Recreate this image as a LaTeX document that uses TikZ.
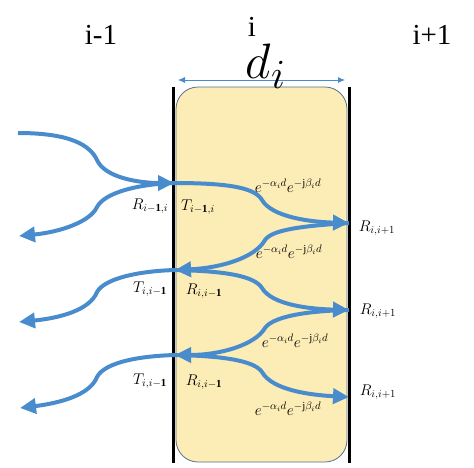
\documentclass[tikz,border=0pt]{standalone}
\usepackage{fontspec}
\setmainfont{Liberation Serif}
\usetikzlibrary{arrows.meta}
\definecolor{wblue}{RGB}{72,140,205}
\definecolor{slabfill}{RGB}{252,236,182}
\definecolor{slabedge}{RGB}{90,110,140}
\tikzset{
  wave/.style={draw=wblue, line width=4pt, -{Triangle[length=16pt,width=15pt]}},
  wall/.style={draw=black, line width=3.5pt},
  lbl/.style={font=\fontsize{14.4}{16}\selectfont, inner sep=0pt, scale=1.08},
  elbl/.style={font=\fontsize{14.4}{16}\selectfont, inner sep=0pt, scale=1.08},
  reg/.style={font=\fontsize{29}{31}\selectfont, inner sep=0pt}
}
\begin{document}
\begin{tikzpicture}[x=1pt,y=-1pt]
\useasboundingbox (0,0) rectangle (474,467);
% slab
\path[fill=slabfill, draw=slabedge, line width=0.8pt, rounded corners=22pt] (176,87) rectangle (347,462);
% walls
\draw[wall] (173.5,87) -- (173.5,463);
\draw[wall] (349.5,87) -- (349.5,463);
% thickness arrow
\coordinate (dl) at (178,80);
\coordinate (dr) at (345,80);
\draw[wblue, line width=0.8pt, {Latex[length=7pt,width=6pt]}-{Latex[length=7pt,width=6pt]}] (dl) -- (dr);
% region labels
\node[reg] (r1) at (101,35) {i-1};
\node[reg] (r2) at (252,27) {i};
\node[reg] (r3) at (432,35) {i+1};
\node[inner sep=0pt, font=\fontsize{24.88}{26}\selectfont, scale=2.0] (d) at (266,66) {$d_i$};
% points on walls
\coordinate (S0) at (18,133);
\coordinate (L1) at (174,183);
\coordinate (R1) at (349,223);
\coordinate (L2) at (175,270);
\coordinate (R2) at (349,310);
\coordinate (L3) at (175,355);
\coordinate (R3) at (349,397);
\coordinate (O1) at (19,236);
\coordinate (O2) at (19,322);
\coordinate (O3) at (20,408);
% waves
\draw[wave] (S0) .. controls (70,133) and (90,145) .. (97,160) .. controls (105,178) and (140,183) .. (L1);
\draw[wave] (L1) .. controls (140,184) and (105,192) .. (97,207) .. controls (90,222) and (60,232) .. (O1);
\draw[wave] (L1) .. controls (230,183) and (255,188) .. (262,200) .. controls (272,217) and (310,222) .. (R1);
\draw[wave] (R1) .. controls (300,226) and (272,230) .. (265,240) .. controls (255,258) and (220,268) .. (L2);
\draw[wave] (L2) .. controls (140,271) and (105,278) .. (97,292) .. controls (90,310) and (60,318) .. (O2);
\draw[wave] (L2) .. controls (230,271) and (255,277) .. (262,288) .. controls (272,305) and (310,309) .. (R2);
\draw[wave] (R2) .. controls (300,311) and (272,318) .. (265,328) .. controls (255,345) and (220,355) .. (L3);
\draw[wave] (L3) .. controls (140,356) and (105,362) .. (97,377) .. controls (90,395) and (60,403) .. (O3);
\draw[wave] (L3) .. controls (230,356) and (255,362) .. (262,372) .. controls (272,390) and (310,395) .. (R3);
% labels
\node[lbl] (ra) at (150,206) {$R_{i-\mathbf{1},i}$};
\node[lbl] (ta) at (198,207) {$T_{i-\mathbf{1},i}$};
\node[elbl] (e1) at (288,186) {$e^{-\alpha_i d}e^{-\mathrm{j}\beta_i d}$};
\node[lbl] (rb) at (377,228) {$R_{i,i+1}$};
\node[lbl] (tb) at (150,289) {$T_{i,i-\mathbf{1}}$};
\node[lbl] (rc) at (204,291) {$R_{i,i-\mathbf{1}}$};
\node[elbl] (e2) at (289,252) {$e^{-\alpha_i d}e^{-\mathrm{j}\beta_i d}$};
\node[lbl] (rd) at (378,311) {$R_{i,i+1}$};
\node[elbl] (e3) at (295,341) {$e^{-\alpha_i d}e^{-\mathrm{j}\beta_i d}$};
\node[lbl] (te) at (150,381) {$T_{i,i-\mathbf{1}}$};
\node[lbl] (re) at (204,382) {$R_{i,i-\mathbf{1}}$};
\node[lbl] (rf) at (378,392) {$R_{i,i+1}$};
\node[elbl] (e4) at (288,409) {$e^{-\alpha_i d}e^{-\mathrm{j}\beta_i d}$};
\end{tikzpicture}
\end{document}
